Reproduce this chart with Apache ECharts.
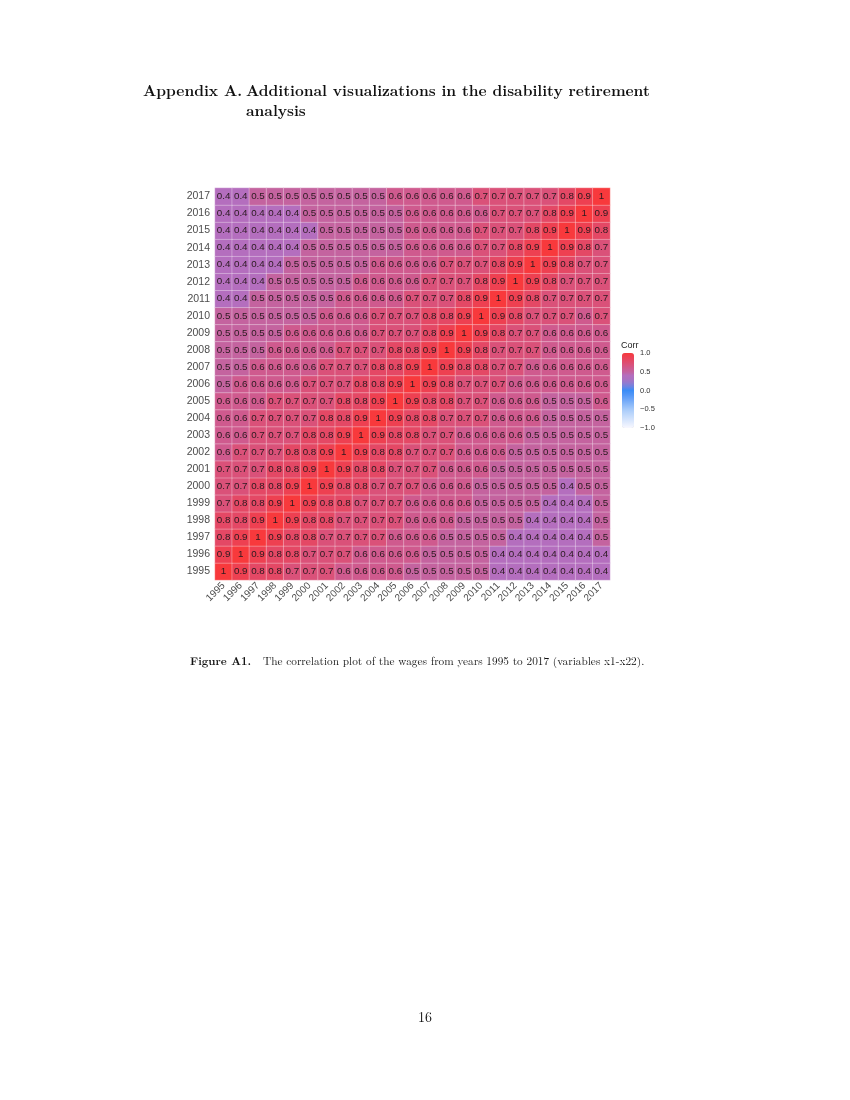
<!DOCTYPE html>
<html>
<head>
<meta charset="utf-8">
<script src="https://cdn.jsdelivr.net/npm/echarts@6/dist/echarts.min.js"></script>
<style>
html,body{margin:0;padding:0;background:#fff;}
#chart{width:850px;height:1100px;}
</style>
</head>
<body>
<div id="chart"></div>
<script>
// Category labels (years)
const years = ['1995','1996','1997','1998','1999','2000','2001','2002','2003','2004','2005','2006','2007','2008','2009','2010','2011','2012','2013','2014','2015','2016','2017'];

// Correlation rows (each row = one y-axis year, values across x years 1995..2017)
const r1995 = [1,0.9,0.8,0.8,0.7,0.7,0.7,0.6,0.6,0.6,0.6,0.5,0.5,0.5,0.5,0.5,0.4,0.4,0.4,0.4,0.4,0.4,0.4];
const r1996 = [0.9,1,0.9,0.8,0.8,0.7,0.7,0.7,0.6,0.6,0.6,0.6,0.5,0.5,0.5,0.5,0.4,0.4,0.4,0.4,0.4,0.4,0.4];
const r1997 = [0.8,0.9,1,0.9,0.8,0.8,0.7,0.7,0.7,0.7,0.6,0.6,0.6,0.5,0.5,0.5,0.5,0.4,0.4,0.4,0.4,0.4,0.5];
const r1998 = [0.8,0.8,0.9,1,0.9,0.8,0.8,0.7,0.7,0.7,0.7,0.6,0.6,0.6,0.5,0.5,0.5,0.5,0.4,0.4,0.4,0.4,0.5];
const r1999 = [0.7,0.8,0.8,0.9,1,0.9,0.8,0.8,0.7,0.7,0.7,0.6,0.6,0.6,0.6,0.5,0.5,0.5,0.5,0.4,0.4,0.4,0.5];
const r2000 = [0.7,0.7,0.8,0.8,0.9,1,0.9,0.8,0.8,0.7,0.7,0.7,0.6,0.6,0.6,0.5,0.5,0.5,0.5,0.5,0.4,0.5,0.5];
const r2001 = [0.7,0.7,0.7,0.8,0.8,0.9,1,0.9,0.8,0.8,0.7,0.7,0.7,0.6,0.6,0.6,0.5,0.5,0.5,0.5,0.5,0.5,0.5];
const r2002 = [0.6,0.7,0.7,0.7,0.8,0.8,0.9,1,0.9,0.8,0.8,0.7,0.7,0.7,0.6,0.6,0.6,0.5,0.5,0.5,0.5,0.5,0.5];
const r2003 = [0.6,0.6,0.7,0.7,0.7,0.8,0.8,0.9,1,0.9,0.8,0.8,0.7,0.7,0.6,0.6,0.6,0.6,0.5,0.5,0.5,0.5,0.5];
const r2004 = [0.6,0.6,0.7,0.7,0.7,0.7,0.8,0.8,0.9,1,0.9,0.8,0.8,0.7,0.7,0.7,0.6,0.6,0.6,0.5,0.5,0.5,0.5];
const r2005 = [0.6,0.6,0.6,0.7,0.7,0.7,0.7,0.8,0.8,0.9,1,0.9,0.8,0.8,0.7,0.7,0.6,0.6,0.6,0.5,0.5,0.5,0.6];
const r2006 = [0.5,0.6,0.6,0.6,0.6,0.7,0.7,0.7,0.8,0.8,0.9,1,0.9,0.8,0.7,0.7,0.7,0.6,0.6,0.6,0.6,0.6,0.6];
const r2007 = [0.5,0.5,0.6,0.6,0.6,0.6,0.7,0.7,0.7,0.8,0.8,0.9,1,0.9,0.8,0.8,0.7,0.7,0.6,0.6,0.6,0.6,0.6];
const r2008 = [0.5,0.5,0.5,0.6,0.6,0.6,0.6,0.7,0.7,0.7,0.8,0.8,0.9,1,0.9,0.8,0.7,0.7,0.7,0.6,0.6,0.6,0.6];
const r2009 = [0.5,0.5,0.5,0.5,0.6,0.6,0.6,0.6,0.6,0.7,0.7,0.7,0.8,0.9,1,0.9,0.8,0.7,0.7,0.6,0.6,0.6,0.6];
const r2010 = [0.5,0.5,0.5,0.5,0.5,0.5,0.6,0.6,0.6,0.7,0.7,0.7,0.8,0.8,0.9,1,0.9,0.8,0.7,0.7,0.7,0.6,0.7];
const r2011 = [0.4,0.4,0.5,0.5,0.5,0.5,0.5,0.6,0.6,0.6,0.6,0.7,0.7,0.7,0.8,0.9,1,0.9,0.8,0.7,0.7,0.7,0.7];
const r2012 = [0.4,0.4,0.4,0.5,0.5,0.5,0.5,0.5,0.6,0.6,0.6,0.6,0.7,0.7,0.7,0.8,0.9,1,0.9,0.8,0.7,0.7,0.7];
const r2013 = [0.4,0.4,0.4,0.4,0.5,0.5,0.5,0.5,0.5,0.6,0.6,0.6,0.6,0.7,0.7,0.7,0.8,0.9,1,0.9,0.8,0.7,0.7];
const r2014 = [0.4,0.4,0.4,0.4,0.4,0.5,0.5,0.5,0.5,0.5,0.5,0.6,0.6,0.6,0.6,0.7,0.7,0.8,0.9,1,0.9,0.8,0.7];
const r2015 = [0.4,0.4,0.4,0.4,0.4,0.4,0.5,0.5,0.5,0.5,0.5,0.6,0.6,0.6,0.6,0.7,0.7,0.7,0.8,0.9,1,0.9,0.8];
const r2016 = [0.4,0.4,0.4,0.4,0.4,0.5,0.5,0.5,0.5,0.5,0.5,0.6,0.6,0.6,0.6,0.6,0.7,0.7,0.7,0.8,0.9,1,0.9];
const r2017 = [0.4,0.4,0.5,0.5,0.5,0.5,0.5,0.5,0.5,0.5,0.6,0.6,0.6,0.6,0.6,0.7,0.7,0.7,0.7,0.7,0.8,0.9,1];

const rows = [r1995,r1996,r1997,r1998,r1999,r2000,r2001,r2002,r2003,r2004,r2005,r2006,r2007,r2008,r2009,r2010,r2011,r2012,r2013,r2014,r2015,r2016,r2017];

// Legend tick values
const legendTicks = [-1, -0.5, 0, 0.5, 1];

const data = [];
rows.forEach((row, yi) => row.forEach((v, xi) => data.push([xi, yi, v])));

// colour ramp from -1 to 1 in 0.1 steps
const ramp = ['#F8F8FF','#E8EFFE','#D8E6FD','#C8DDFC','#B8D4FB','#A6CAFA','#90BCF9','#7AAEF8','#64A0F8','#4E95F7','#3A8CF6',
              '#6C84E2','#917BD0','#AA72C2','#B46EBE','#C4639F','#CF5A8E','#DA5179','#E44865','#EE4051','#F8393C'];

const chart = echarts.init(document.getElementById('chart'), null, {renderer:'canvas'});
const serif = '"Latin Modern Roman","CMU Serif","DejaVu Serif","Liberation Serif",serif';
const sans = '"Liberation Sans",Arial,sans-serif';
chart.setOption({
  backgroundColor:'#fff',
  animation:false,
  title:[
    {text:'Appendix A.', left:143, top:84, padding:0, textStyle:{fontFamily:serif, fontWeight:'bold', fontSize:15.3, color:'#111'}},
    {text:'Additional visualizations in the disability retirement', left:246, top:84, padding:0, textStyle:{fontFamily:serif, fontWeight:'bold', fontSize:15.3, color:'#111'}},
    {text:'analysis', left:246, top:104, padding:0, textStyle:{fontFamily:serif, fontWeight:'bold', fontSize:15.3, color:'#111'}},
    {text:'Figure A1.', left:190, top:656, padding:0, textStyle:{fontFamily:serif, fontWeight:'bold', fontSize:11.3, color:'#111'}},
    {text:'The correlation plot of the wages from years 1995 to 2017 (variables x1-x22).', left:263, top:656, padding:0, textStyle:{fontFamily:serif, fontWeight:'normal', fontSize:11.3, color:'#111'}},
    {text:'16', left:'center', top:1011, padding:0, textStyle:{fontFamily:serif, fontWeight:'normal', fontSize:14, color:'#111'}},
    {text:'Corr', left:621, top:341, padding:0, textStyle:{fontFamily:sans, fontWeight:'normal', fontSize:9, color:'#222'}}
  ],
  grid:[
    {left:215, top:188, width:395, height:392, containLabel:false},
    {left:634, top:353, width:1, height:75}
  ],
  xAxis:[
    {type:'category', data:years, gridIndex:0, axisLine:{show:false}, axisTick:{show:false}, splitArea:{show:false},
     axisLabel:{rotate:45, fontSize:10, color:'#4D4D4D', fontFamily:sans, margin:4, interval:0}},
    {type:'value', gridIndex:1, show:false, min:0, max:1}
  ],
  yAxis:[
    {type:'category', data:years, gridIndex:0, axisLine:{show:false}, axisTick:{show:false}, splitArea:{show:false},
     axisLabel:{fontSize:10.5, color:'#4D4D4D', fontFamily:sans, margin:5, interval:0}},
    {type:'value', gridIndex:1, min:legendTicks[0], max:legendTicks[legendTicks.length-1], interval:0.5, position:'right',
     axisLine:{show:false}, axisTick:{show:false}, splitLine:{show:false},
     axisLabel:{fontSize:7.5, color:'#333', margin:5, fontFamily:sans,
       formatter:v => (v < 0 ? '\u2212' + Math.abs(v).toFixed(1) : v.toFixed(1))}}
  ],
  visualMap:{
    type:'continuous', min:-1, max:1, seriesIndex:0, calculable:false, realtime:false,
    left:622, top:353, itemWidth:12, itemHeight:75, padding:0, text:['',''], showLabel:false,
    inRange:{color:ramp}, hoverLink:false
  },
  series:[{
    type:'heatmap', xAxisIndex:0, yAxisIndex:0, data:data,
    label:{show:true, fontSize:9.8, color:'#2a1a1f', fontFamily:sans,
      formatter:p => String(p.value[2])},
    itemStyle:{borderColor:'rgba(255,255,255,0.55)', borderWidth:0.6},
    emphasis:{disabled:true}
  }]
});
</script>
</body>
</html>
